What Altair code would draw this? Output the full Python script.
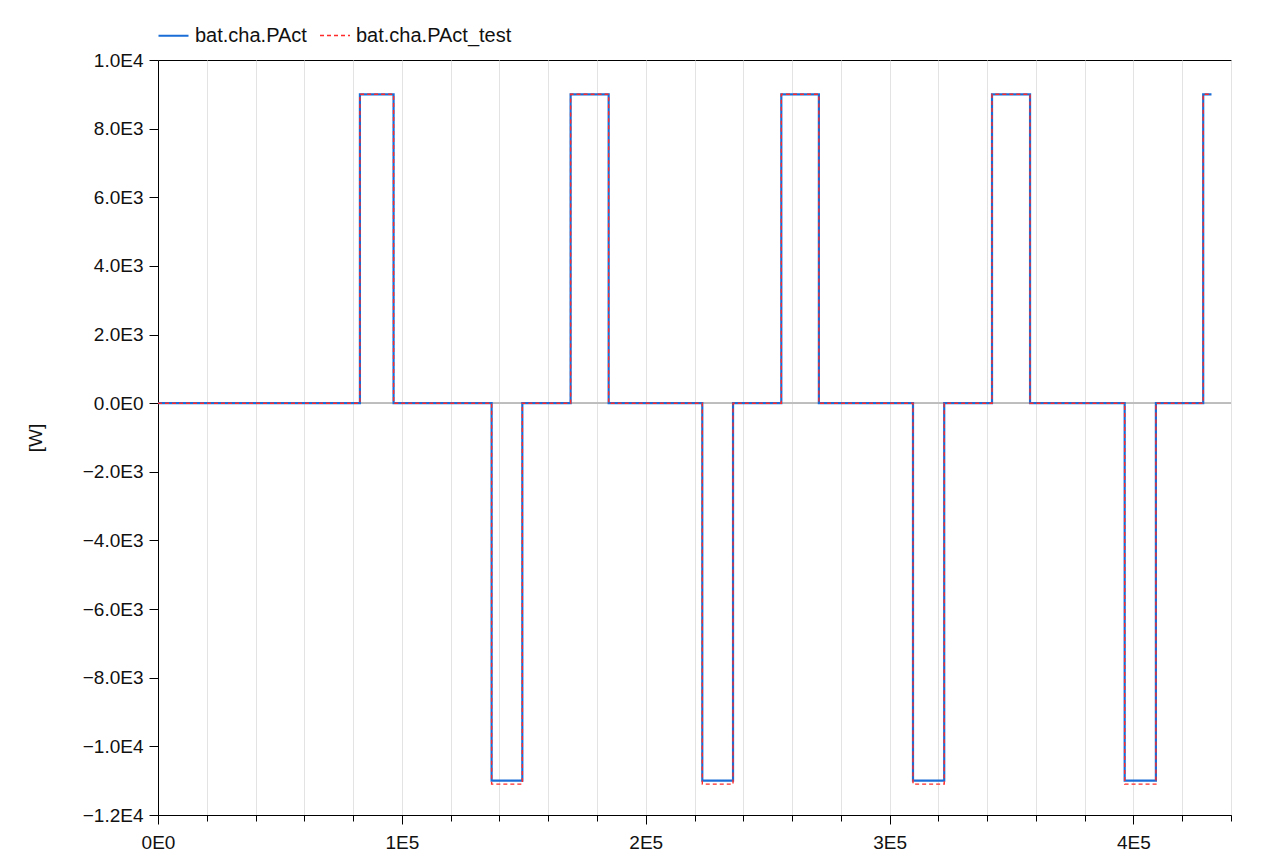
import pandas as pd
import altair as alt

# Step signal: switching times [s] and power [W]
times = [0, 82800, 96600, 136800, 149400, 169200, 184800, 223200, 235800,
         255600, 271000, 309600, 322400, 342000, 357600, 396400, 409200,
         428600, 432000]
p_act = [0, 9000, 0, -11000, 0, 9000, 0, -11000, 0,
         9000, 0, -11000, 0, 9000, 0, -11000, 0,
         9000, 9000]
p_act_test = [0, 9000, 0, -11100, 0, 9000, 0, -11100, 0,
              9000, 0, -11100, 0, 9000, 0, -11100, 0,
              9000, 9000]

series = ["bat.cha.PAct", "bat.cha.PAct_test"]
colors = ["#1a6dd6", "#ff2a2a"]

df = pd.concat([
    pd.DataFrame({"t": times, "P": p_act, "var": series[0]}),
    pd.DataFrame({"t": times, "P": p_act_test, "var": series[1]}),
])

x_ticks = list(range(0, 440001, 20000))
y_ticks = list(range(-12000, 10001, 2000))
font = "Liberation Sans"

# Step lines for both signals
lines = alt.Chart(df).mark_line(interpolate="step-after").encode(
    x=alt.X("t:Q", scale=alt.Scale(domain=[0, 440000], nice=False),
            axis=alt.Axis(values=x_ticks, title=None,
                          labelExpr="datum.value % 100000 === 0 ? replace(format(datum.value, '.0e'), 'e+', 'E') : ''",
                          tickSize={"condition": {"test": "datum.value % 100000 === 0", "value": 9}, "value": 6},
                          labelPadding=9, labelFlush=False, labelOverlap=False)),
    y=alt.Y("P:Q", scale=alt.Scale(domain=[-12000, 10000], nice=False),
            axis=alt.Axis(values=y_ticks, title="[W]", tickSize=9, labelPadding=6,
                          labelExpr="replace(format(datum.value, '.1e'), 'e+', 'E')",
                          titleAngle=-90, titleX=-123, titleY=377.5,
                          titleAlign="center", titleBaseline="middle")),
    color=alt.Color("var:N", scale=alt.Scale(domain=series, range=colors),
                    legend=alt.Legend(title=None, orient="none", direction="horizontal",
                                      legendX=-1, legendY=-41, symbolType="stroke",
                                      symbolSize=900, labelOffset=5, columnPadding=10,
                                      padding=0)),
    strokeDash=alt.StrokeDash("var:N", scale=alt.Scale(domain=series, range=[[1, 0], [4, 3]]),
                              legend=alt.Legend(title=None)),
    strokeWidth=alt.StrokeWidth("var:N", scale=alt.Scale(domain=series, range=[2.2, 1.4]),
                                legend=alt.Legend(title=None)),
    order=alt.Order("var:N"),
)

# Darker grid line at zero
zero = alt.Chart(df).mark_rule(color="#bdbdbd", strokeWidth=1).encode(y=alt.datum(0))

chart = (zero + lines).properties(
    width=1073, height=755,
    autosize=alt.AutoSizeParams(type="none"),
    padding={"left": 150, "top": 52, "right": 30, "bottom": 36},
).configure_view(
    stroke="black", strokeWidth=1
).configure_axis(
    domainColor="black", tickColor="black", gridColor="#e3e3e3",
    labelFont=font, titleFont=font, labelFontSize=19, titleFontSize=19,
    labelColor="#111111", titleColor="#111111", titleFontWeight="normal",
).configure_legend(
    labelFont=font, labelFontSize=20, labelColor="#111111"
)

chart.save("out.html", embed_options={"renderer": "svg", "actions": False})
